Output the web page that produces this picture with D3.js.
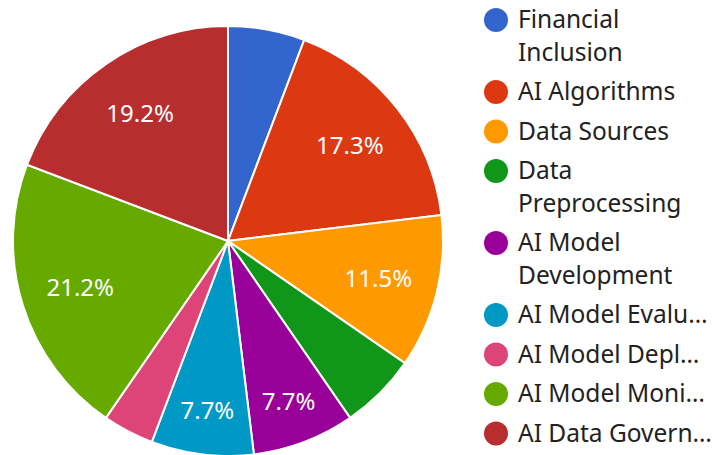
<!DOCTYPE html>
<html>
<head>
<meta charset="utf-8">
<script src="https://cdn.jsdelivr.net/npm/d3@7"></script>
<style>
  body { margin: 0; background: #fff; }
  svg { display: block; font-family: "Noto Sans", sans-serif; }
</style>
</head>
<body>
<div id="chart"></div>
<script>
// Pie chart of topic shares (Google Charts look)

const categories = ["Financial Inclusion", "AI Algorithms", "Data Sources", "Data Preprocessing",
                    "AI Model Development", "AI Model Evaluation", "AI Model Deployment",
                    "AI Model Monitoring", "AI Data Governance"];
const values = [3, 9, 6, 3, 4, 4, 2, 11, 10];
const colors = ["#3366cc", "#dc3912", "#ff9900", "#109618", "#990099",
                "#0099c6", "#dd4477", "#66aa00", "#b82e2e"];

const width = 712,
      height = 455;

const cx = 228, cy = 241, R = 215;

let svg = d3.select("#chart")
    .append("svg")
    .attr("width", width)
    .attr("height", height);

let data = categories.map((c, i) => ({ name: c, value: values[i], color: colors[i] }));
let total = d3.sum(values);

let pie = d3.pie()
    .sort(null)
    .value(d => d.value);

let arc = d3.arc()
    .innerRadius(0)
    .outerRadius(R);

let arcs = pie(data);

let g = svg.append("g")
    .attr("transform", `translate(${cx},${cy})`);

// slices
g.selectAll("path")
    .data(arcs)
    .join("path")
    .attr("d", arc)
    .attr("fill", d => d.data.color)
    .attr("stroke", "#fff")
    .attr("stroke-width", 2);

// percent labels, pushed outward on thin slices, hidden if they don't fit
const fmt = d3.format(".1f");
arcs.forEach(d => {
    let t = g.append("text")
        .text(fmt(d.data.value / total * 100) + "%")
        .attr("font-size", 24)
        .attr("fill", "#fff")
        .attr("text-anchor", "middle");
    let w = t.node().getComputedTextLength();
    let a = d.endAngle - d.startAngle;
    let need = (w + 28) / (2 * Math.sin(a / 2));
    let rl = Math.max(R * 0.72, need);
    if (rl > R - 30) { t.remove(); return; }
    let mid = (d.startAngle + d.endAngle) / 2;
    t.attr("x", rl * Math.sin(mid))
     .attr("y", -rl * Math.cos(mid))
     .attr("dy", "0.36em");
});

// legend
const lx = 496, tx = 518, maxW = 195;
let y = 28; // baseline of first line
let legend = svg.append("g").attr("font-size", 24.5).attr("fill", "#222");

data.forEach((d, i) => {
    legend.append("circle")
        .attr("cx", lx)
        .attr("cy", y - 8)
        .attr("r", 12)
        .attr("fill", d.color);

    let t = legend.append("text")
        .attr("x", tx)
        .attr("y", y)
        .text(d.name);

    if (t.node().getComputedTextLength() > maxW) {
        if (i < 5) {
            // wrap onto two lines
            let words = d.name.split(" ");
            let line1 = words[0], k = 1;
            while (k < words.length) {
                t.text(line1 + " " + words[k]);
                if (t.node().getComputedTextLength() > maxW) break;
                line1 += " " + words[k];
                k++;
            }
            t.text(line1);
            legend.append("text")
                .attr("x", tx)
                .attr("y", y + 32.5)
                .text(words.slice(k).join(" "));
            y += 32.5;
        } else {
            // truncate with ellipsis
            let s = d.name;
            while (s.length > 1) {
                s = s.slice(0, -1);
                t.text(s.trimEnd() + "…");
                if (t.node().getComputedTextLength() <= maxW) break;
            }
        }
    }
    y += 39.5;
});
</script>
</body>
</html>
